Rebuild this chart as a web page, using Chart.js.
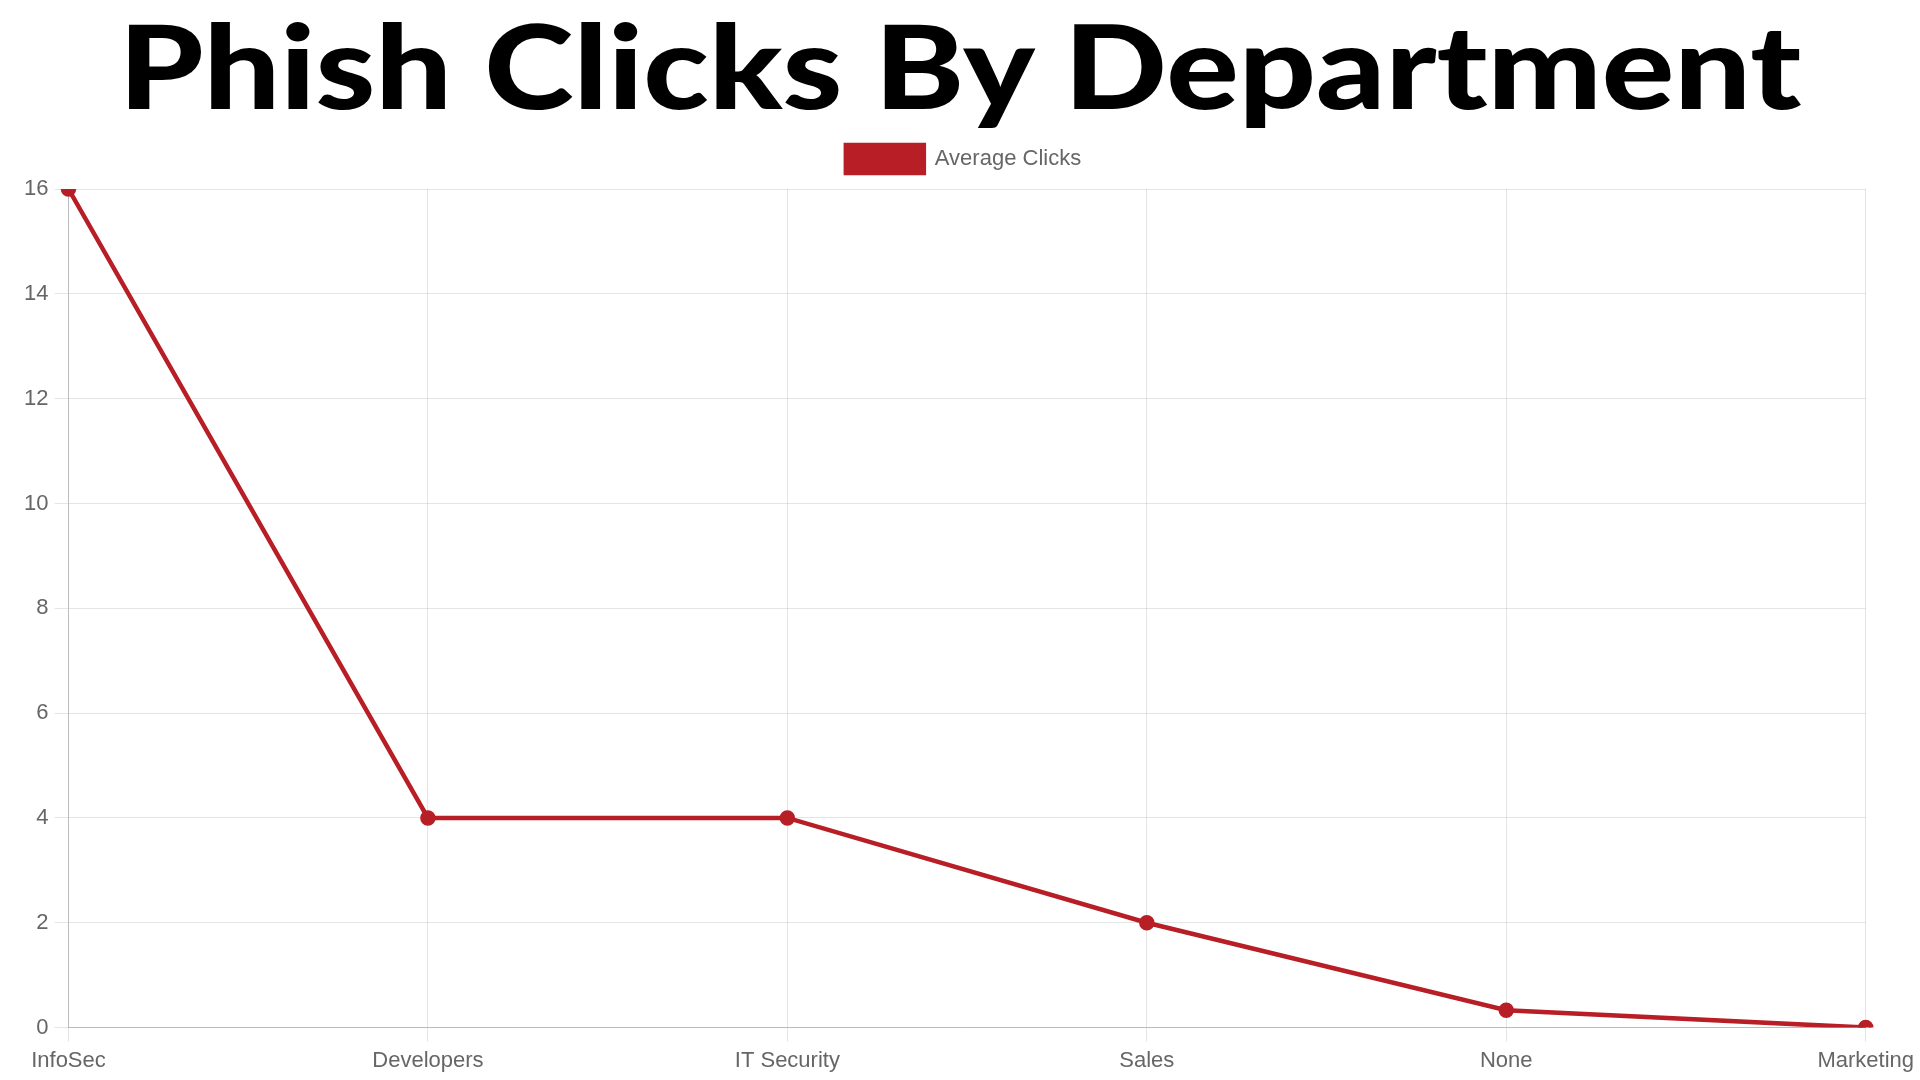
<!DOCTYPE html>
<html>
<head>
<meta charset="utf-8">
<title>Phish Clicks By Department</title>
<script src="https://cdn.jsdelivr.net/npm/chart.js@4.4.0/dist/chart.umd.min.js"></script>
<style>
  html, body { margin: 0; padding: 0; background: #fff; }
  #wrap { width: 1920px; height: 1080px; position: relative; overflow: hidden; }
  #chartTitle {
    position: absolute; left: 0; top: 6px; width: 1920px; margin: 0;
    text-align: center; white-space: nowrap;
    font-family: Lato, 'DejaVu Sans', sans-serif; font-weight: 900;
    font-size: 117px; line-height: 1; color: #000;
    transform-origin: 960px 50%;
  }
  #phishChart { position: absolute; left: 0; top: 0; }
</style>
</head>
<body>
<div id="wrap">
  <h1 id="chartTitle"></h1>
  <canvas id="phishChart" width="1920" height="1080"></canvas>
</div>
<script>
// --- Data ---
const departments = ['InfoSec', 'Developers', 'IT Security', 'Sales', 'None', 'Marketing'];
const averageClicks = [16, 4, 4, 2, 0.33, 0];
const chartTitle = 'Phish Clicks By Department';
const seriesLabel = 'Average Clicks';

const lineRed = '#b71e25';
const bodyFamily = "'Liberation Sans', Arial, sans-serif";

// Title: Lato Black, stretched sideways to the width of the reference heading
const titleEl = document.getElementById('chartTitle');
titleEl.textContent = chartTitle;
const measure = document.createElement('canvas').getContext('2d');
measure.font = "900 117px Lato, 'DejaVu Sans', sans-serif";
const stretch = 1686 / measure.measureText(chartTitle).width;
titleEl.style.transform = `scaleX(${stretch})`;

// a little extra room under the legend
const legendGap = {
  id: 'legendGap',
  beforeInit(chart) {
    const fit = chart.legend.fit;
    chart.legend.fit = function () {
      fit.bind(chart.legend)();
      this.height += 6;
    };
  }
};

const ctx = document.getElementById('phishChart').getContext('2d');

new Chart(ctx, {
  type: 'line',
  data: {
    labels: departments,
    datasets: [{
      label: seriesLabel,
      data: averageClicks,
      borderColor: lineRed,
      backgroundColor: lineRed,
      borderWidth: 4.5,
      pointRadius: 5.5,
      pointBackgroundColor: lineRed,
      pointBorderColor: lineRed,
      tension: 0,
      fill: false
    }]
  },
  plugins: [legendGap],
  options: {
    responsive: false,
    animation: false,
    layout: { padding: { top: 135, bottom: 0, left: 18, right: 11 } },
    plugins: {
      legend: {
        display: true,
        labels: {
          boxWidth: 78,
          boxHeight: 28,
          color: '#666',
          font: { family: bodyFamily, size: 22 },
          padding: 10
        }
      },
      tooltip: { enabled: false }
    },
    scales: {
      x: {
        offset: false,
        grid: { color: 'rgba(0,0,0,0.1)', tickLength: 14, lineWidth: 1 },
        border: { color: 'rgba(0,0,0,0.18)' },
        ticks: { color: '#666', font: { family: bodyFamily, size: 22 }, maxRotation: 0, padding: 6 }
      },
      y: {
        min: 0,
        max: 16,
        grid: { color: 'rgba(0,0,0,0.1)', tickLength: 14, lineWidth: 1 },
        border: { color: 'rgba(0,0,0,0.18)' },
        ticks: { stepSize: 2, color: '#666', font: { family: bodyFamily, size: 22 }, padding: 6 }
      }
    }
  }
});
</script>
</body>
</html>
